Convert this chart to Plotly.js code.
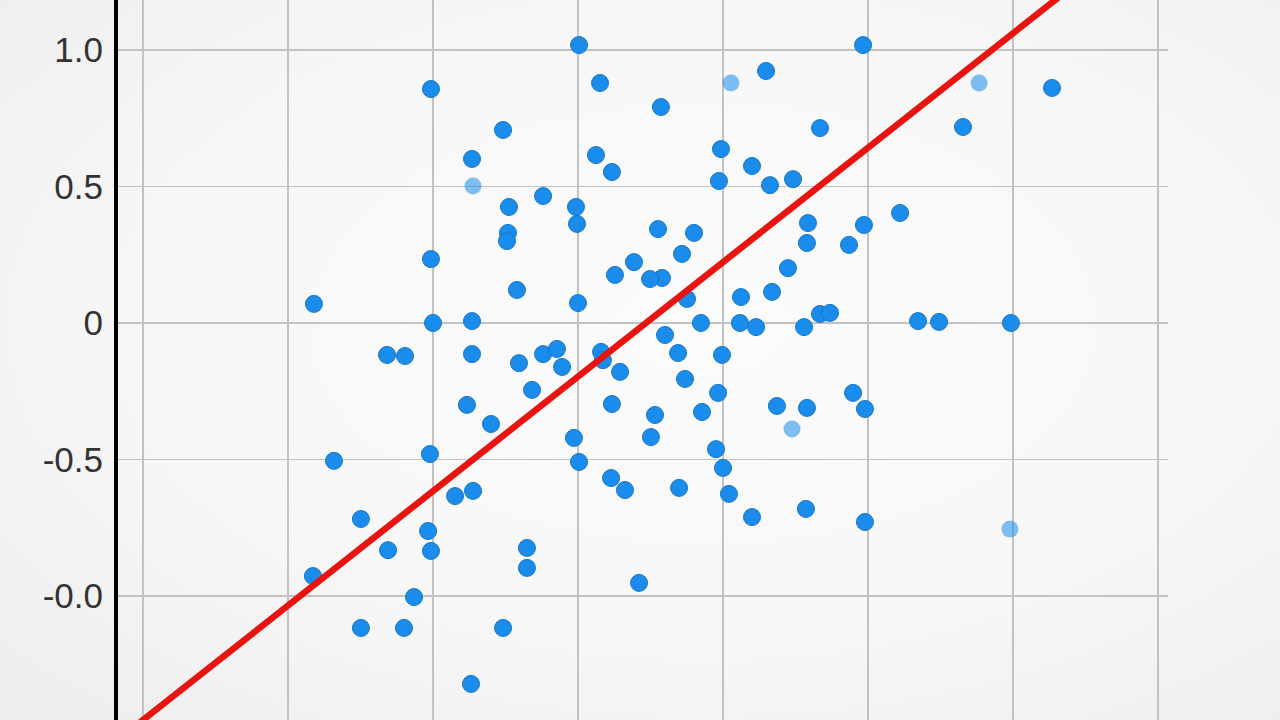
<!DOCTYPE html>
<html>
<head>
<meta charset="utf-8">
<script src="https://cdn.plot.ly/plotly-3.0.1.min.js"></script>
<style>
  html, body { margin: 0; padding: 0; width: 1280px; height: 720px; overflow: hidden;
    background: radial-gradient(ellipse at 55% 45%, #fbfbfb 0%, #f7f7f7 55%, #ededed 100%); }
  #chart { width: 1280px; height: 720px; }
</style>
</head>
<body>
<div id="chart"></div>
<script>
// Scatter points (solid)
const pointsX = [
  1.179, 1.317, 1.172, 1.503, 1.503, 1.683, 1.807, 1.690, 1.869, 1.800,
  1.986, 1.986, 2.000, 1.979, 1.966, 1.986, 2.269, 2.269, 2.269, 2.234,
  2.276, 2.152, 2.262, 2.483, 2.524, 2.517, 2.510, 2.579, 2.400, 2.593,
  2.683, 2.648, 2.648, 2.483, 2.759, 2.759, 2.855, 2.890, 3.007, 2.986,
  2.993, 3.000, 2.972, 3.007, 3.152, 3.124, 3.234, 3.255, 3.159, 3.172,
  3.290, 3.234, 3.228, 3.324, 3.421, 3.572, 3.552, 3.386, 3.579, 3.497,
  3.752, 3.600, 3.690, 3.738, 3.531, 3.503, 3.697, 3.800, 3.717, 3.848,
  3.855, 3.986, 3.972, 3.993, 3.966, 3.952, 4.000, 4.041, 4.297, 4.200,
  4.324, 4.124, 4.117, 4.228, 4.200, 4.483, 4.448, 4.338, 4.372, 4.669,
  4.586, 4.579, 4.559, 4.669, 4.738, 4.579, 4.572, 4.966, 4.972, 4.869,
  4.897, 4.979, 4.979, 5.221, 5.345, 5.490, 5.655, 5.986, 6.269
];
const pointsY = [
  0.070, -0.505, -0.927, -0.718, -1.117, -0.117, -0.121, -0.832, -1.004, -1.117,
  0.857, 0.234, 0.000, -0.480, -0.762, -0.835, 0.601, 0.007, -0.114, -0.300,
  -0.615, -0.634, -1.322, 0.707, 0.425, 0.330, 0.300, 0.121, -0.370, -0.147,
  -0.245, -0.824, -0.897, -1.117, 0.465, -0.114, -0.095, -0.161, 1.018, 0.425,
  0.363, 0.073, -0.421, -0.509, 0.879, 0.615, 0.553, 0.176, -0.106, -0.136,
  -0.179, -0.297, -0.568, -0.612, -0.952, 0.791, 0.344, 0.223, 0.165, 0.161,
  0.088, -0.044, -0.110, -0.205, -0.337, -0.418, -0.604, 0.330, 0.253, 0.000,
  -0.326, 0.637, 0.520, -0.117, -0.256, -0.462, -0.531, -0.626, 0.923, 0.575,
  0.505, 0.095, 0.000, -0.015, -0.711, 0.527, 0.201, 0.114, -0.304, 0.714,
  0.366, 0.293, -0.015, 0.033, 0.037, -0.311, -0.681, 1.018, 0.359, 0.286,
  -0.256, -0.315, -0.729, 0.403, 0.007, 0.004, 0.718, 0.000, 0.861
];
// Faded (blurred) points
const fadedX = [2.276, 4.055, 4.476, 5.766, 5.979];
const fadedY = [0.502, 0.879, -0.388, 0.879, -0.755];
// Fitted trend line
const lineX = [-0.1, 6.4];
const lineY = [-1.496, 1.229];
// Y-axis ticks
const yTickVals = [1.0, 0.5, 0, -0.5, -1.0];
const yTickText = ['1.0', '0.5', '0', '-0.5', '-0.0'];
const yCutLabel = '-0.5';

const blue = '#1a8ceb';
const labelFont = { family: 'Liberation Sans, Arial, sans-serif', size: 35, color: '#333333' };
const traces = [
  { x: fadedX, y: fadedY, type: 'scatter', mode: 'markers',
    marker: { color: blue, size: 17, opacity: 0.55, line: { width: 0 } },
    hoverinfo: 'skip', showlegend: false },
  { x: pointsX, y: pointsY, type: 'scatter', mode: 'markers',
    marker: { color: blue, size: 17, line: { color: '#1576c6', width: 1 } },
    showlegend: false },
  { x: lineX, y: lineY, type: 'scatter', mode: 'lines',
    line: { color: '#e8140f', width: 6.5 }, showlegend: false, hoverinfo: 'skip' }
];

const layout = {
  width: 1280, height: 720,
  margin: { l: 118, r: 112, t: 0, b: 0, pad: 0 },
  paper_bgcolor: 'rgba(0,0,0,0)',
  plot_bgcolor: 'rgba(0,0,0,0)',
  showlegend: false,
  xaxis: {
    range: [(118 - 143) / 145, (1168 - 143) / 145],
    tick0: 0, dtick: 1,
    showticklabels: false, ticks: '',
    showgrid: true, gridcolor: '#c2c2c2', gridwidth: 1.5,
    zeroline: false, showline: false
  },
  yaxis: {
    range: [(323 - 720) / 273, 323 / 273],
    tickmode: 'array', tickvals: yTickVals, ticktext: yTickText,
    ticks: '', ticklabelstandoff: 4,
    tickfont: labelFont,
    showgrid: true, gridcolor: '#c2c2c2', gridwidth: 1.5,
    zeroline: false,
    showline: true, linecolor: '#000000', linewidth: 4
  },
  annotations: [
    { text: yCutLabel, xref: 'paper', yref: 'paper', x: 0, y: (720 - 734) / 720,
      xanchor: 'right', yanchor: 'middle', xshift: -12, showarrow: false,
      font: labelFont }
  ]
};

Plotly.newPlot('chart', traces, layout, { displayModeBar: false, staticPlot: true });
</script>
</body>
</html>
